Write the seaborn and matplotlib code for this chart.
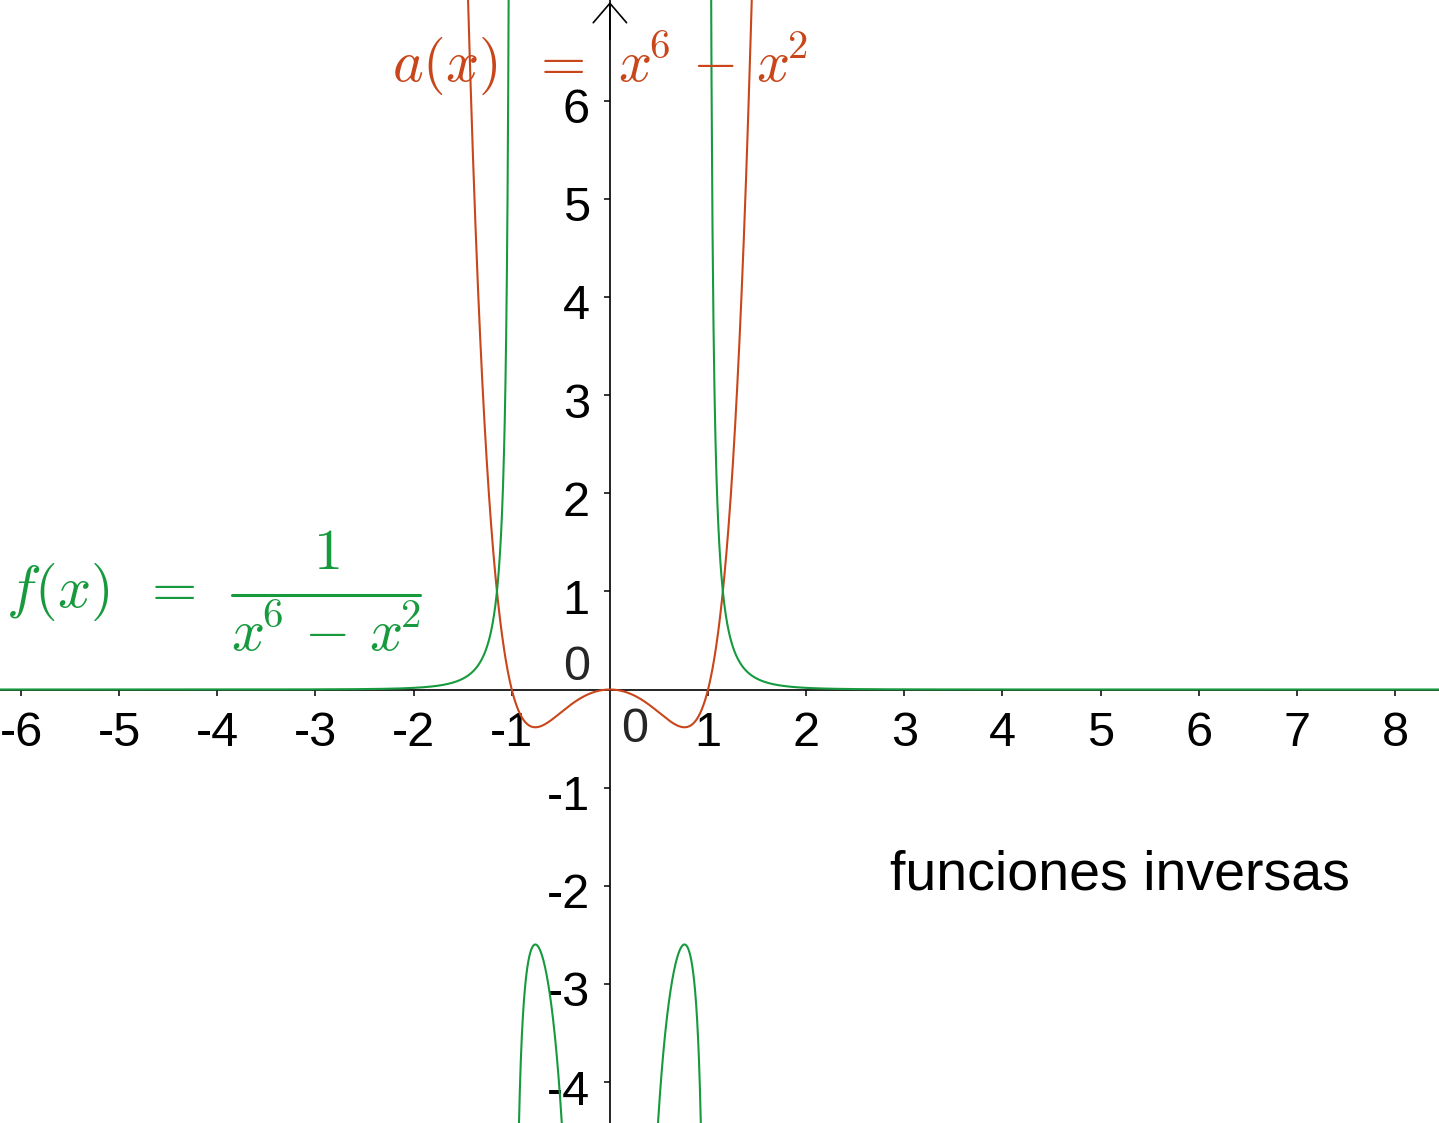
import numpy as np
import pandas as pd
import seaborn as sns
import matplotlib.pyplot as plt
from matplotlib.lines import Line2D
from matplotlib.transforms import ScaledTranslation

# curves from the chart: a(x) = x^6 - x^2 and f(x) = 1/a(x)
x_left = np.linspace(-6.3, -1.0005, 1500)
x_midl = np.linspace(-0.9995, -0.0005, 1500)
x_midr = np.linspace(0.0005, 0.9995, 1500)
x_right = np.linspace(1.0005, 8.5, 1500)
x_all = np.linspace(-6.3, 8.5, 4000)

x_ticks = [-6, -5, -4, -3, -2, -1, 1, 2, 3, 4, 5, 6, 7, 8]
y_ticks = [-4, -3, -2, -1, 1, 2, 3, 4, 5, 6]

red = '#c8461a'
green = '#179a3e'

sns.set_style('white')
plt.rcParams['font.family'] = ['Liberation Sans', 'DejaVu Sans']
plt.rcParams['mathtext.fontset'] = 'cm'

W, H = 1439, 1123
fig = plt.figure(figsize=(W / 100, H / 100), dpi=100)
ax = fig.add_axes([0, 0, 1, 1])

s = 98.14  # pixels per unit
ax.set_xlim(-609.9 / s, (W - 609.9) / s)
ax.set_ylim((689.5 - H) / s, 689.5 / s)

# axes through the origin
for side in ['top', 'right']:
    ax.spines[side].set_visible(False)
ax.spines['left'].set_position(('data', 0))
ax.spines['bottom'].set_position(('data', 0))
for side in ['left', 'bottom']:
    ax.spines[side].set_linewidth(1.2)
    ax.spines[side].set_color('black')
    ax.spines[side].set_zorder(1)

ax.set_xticks(x_ticks)
ax.set_xticklabels([str(t) for t in x_ticks])
ax.set_yticks(y_ticks)
ax.set_yticklabels([str(t) for t in y_ticks])
ax.tick_params(axis='x', bottom=True, direction='out', length=4.5, width=1.1, pad=11,
               labelsize=35, colors='black')
ax.tick_params(axis='y', left=True, direction='out', length=4.5, width=1.1, pad=10,
               labelsize=35, colors='black')
for lab in ax.get_yticklabels():
    lab.set_transform(lab.get_transform() + ScaledTranslation(0, -0.05, fig.dpi_scale_trans))
for lab in ax.get_xticklabels() + ax.get_yticklabels():
    lab.set_zorder(5)

# zero labels
ax.text(25 / s, -40.5 / s, '0', fontsize=35, ha='center', va='center', zorder=5)
ax.text(-20 / s, 22.5 / s, '0', fontsize=35, ha='right', va='center', zorder=5)

# arrow on y axis
ax.annotate('', xy=(0, 687.5 / s), xytext=(0, 689.5 / s - 0.4),
            arrowprops=dict(arrowstyle='->,head_length=0.35,head_width=0.3', lw=1.2,
                            color='black', mutation_scale=40, shrinkA=0, shrinkB=0),
            zorder=2)

# a(x)
sns.lineplot(x=x_all, y=x_all ** 6 - x_all ** 2, color=red, linewidth=1.5,
             sort=False, estimator=None, ax=ax, zorder=3)
# f(x) = 1/a(x), one branch per interval
for xs in [x_left, x_midl, x_midr, x_right]:
    ys = 1 / (xs ** 6 - xs ** 2)
    ys = np.where(np.abs(ys) > 60, np.nan, ys)
    df = pd.DataFrame({'x': xs, 'y': ys}).dropna()
    sns.lineplot(data=df, x='x', y='y', color=green, linewidth=1.5,
                 sort=False, estimator=None, ax=ax, zorder=4)

ax.set_xlabel('')
ax.set_ylabel('')

# labels of the two functions
fig.text(392 / W, 1 - 80 / H, r'$a(x)\;\;=\;\,x^{\!6}\,-\,x^{\!2}$', color=red,
         fontsize=42, ha='left', va='baseline', zorder=6)
fig.text(6 / W, 1 - 607 / H, r'$f(x)\;\;=$', color=green,
         fontsize=42, ha='left', va='baseline', zorder=6)
fig.text(326 / W, 1 - 569 / H, r'$1$', color=green,
         fontsize=42, ha='center', va='baseline', zorder=6)
fig.text(326 / W, 1 - 650 / H, r'$x^{\!6}\,-\,x^{\!2}$', color=green,
         fontsize=42, ha='center', va='baseline', zorder=6)
fig.add_artist(Line2D([232 / W, 420 / W], [1 - 595 / H] * 2, color=green, lw=2.2,
                      transform=fig.transFigure))

fig.text(890 / W, 1 - 889 / H, 'funciones inversas', color='black',
         fontsize=40, ha='left', va='baseline', zorder=6)

fig.savefig('out.png', dpi=100)
